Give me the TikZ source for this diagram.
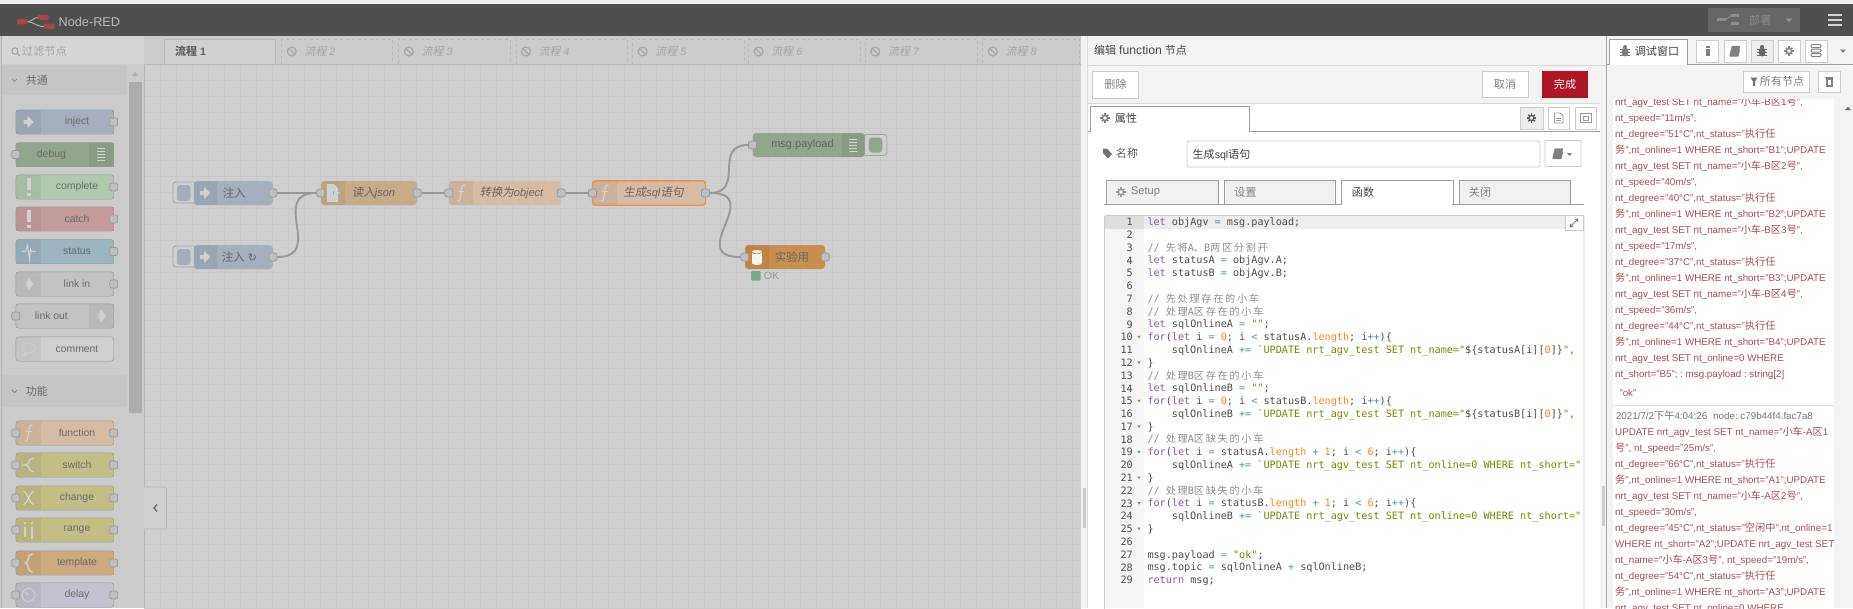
\documentclass[tikz,border=0pt]{standalone}
\usepackage{fontspec}
\setmainfont{Liberation Sans}
\newfontfamily\cjk[Scale=1.04]{Noto Sans CJK SC}
\newfontfamily\cjkit[Scale=1.04,FakeSlant=0.2]{Noto Sans CJK SC}
\newfontfamily\cjkmono[LetterSpace=17]{Noto Sans CJK SC}
\newfontfamily\mono{DejaVu Sans Mono}
\frenchspacing

\definecolor{topbar}{HTML}{4F4F4F}
\definecolor{canvas}{HTML}{CFCFCF}
\definecolor{gridcol}{HTML}{C8C8C8}
\definecolor{palback}{HTML}{CBCBCB}
\definecolor{palhead}{HTML}{C5C5C5}
\definecolor{maskline}{HTML}{B6B6B6}
\definecolor{injectcol}{HTML}{A4AEBC}
\definecolor{debugcol}{HTML}{92A58D}
\definecolor{completecol}{HTML}{B1C9AF}
\definecolor{catchcol}{HTML}{C49B9B}
\definecolor{statuscol}{HTML}{9BB4BF}
\definecolor{linkcol}{HTML}{C3C3C3}
\definecolor{commentcol}{HTML}{CFCFCF}
\definecolor{funccol}{HTML}{D6BCA5}
\definecolor{switchcol}{HTML}{C3BE85}
\definecolor{templatecol}{HTML}{CDAA7E}
\definecolor{delaycol}{HTML}{C4C1D0}
\definecolor{filecol}{HTML}{C5AB8A}
\definecolor{dbcol}{HTML}{C68F4D}
\definecolor{selectcol}{HTML}{E5954C}
\definecolor{okcol}{HTML}{7AA58F}
\definecolor{logocol}{HTML}{A04848}
\definecolor{traybg}{HTML}{F3F3F3}
\definecolor{edgecol}{HTML}{CCCCCC}
\definecolor{donecol}{HTML}{AD1625}
\definecolor{codecol}{HTML}{4D4D4C}
\definecolor{kwcol}{HTML}{8959A8}
\definecolor{strcol}{HTML}{718C00}
\definecolor{cmcol}{HTML}{8E908C}
\definecolor{opcol}{HTML}{3E999F}
\definecolor{numcol}{HTML}{F5871F}
\definecolor{dbgcol}{HTML}{A84E4E}
\colorlet{iconwhite}{white!82!black}

\newcommand{\zh}[1]{{\cjk #1}}
\newcommand{\zi}[1]{{\cjkit #1}}
\newcommand{\zc}[1]{{\cjkmono #1}}
\newcommand{\kw}[1]{\textcolor{kwcol}{#1}}
\newcommand{\strg}[1]{\textcolor{strcol}{#1}}
\newcommand{\cm}[1]{\textcolor{cmcol}{#1}}
\newcommand{\op}[1]{\textcolor{opcol}{#1}}
\newcommand{\nb}[1]{\textcolor{numcol}{#1}}
\newcommand{\ind}{\hspace*{24.4pt}}

% band and outline of a node
\newcommand{\nodeband}[4]{%
\begin{scope}
\clip[rounded corners=3pt] (#1.south west) rectangle (#1.north east);
\fill[black,fill opacity=.05] (#1.north #2) rectangle ([xshift=#3]#1.south #2);
\end{scope}
\draw[#4,rounded corners=3pt] (#1.south west) rectangle (#1.north east);}

% icons
\newcommand{\icoarrow}[1]{\begin{scope}[shift={(#1)}]
\fill[iconpaint] (-5,-2) -- (-1,-2) -- (-1,-6) -- (5,0) -- (-1,6) -- (-1,2) -- (-5,2) -- cycle;
\draw[canvas,line width=.8pt] (-5,0) -- (1,0);
\end{scope}}
\newcommand{\icobars}[1]{\begin{scope}[shift={(#1)}]
\foreach \k in {-6,-3,0,3,6} \draw[iconline,line width=1pt] (-4,\k) -- (4,\k);
\end{scope}}
\newcommand{\icowarn}[1]{\begin{scope}[shift={(#1)}]
\fill[iconpaint] (-2,-9) rectangle (2,3);
\fill[iconpaint] (-2,6) rectangle (2,9);
\end{scope}}
\newcommand{\icopulse}[1]{\begin{scope}[shift={(#1)}]
\draw[iconline] (-7,0) -- (-3,0) -- (-1,-6) -- (1,8) -- (2,-2) -- (3,0) -- (7,0);
\end{scope}}
\newcommand{\icolink}[1]{\begin{scope}[shift={(#1)}]
\fill[iconpaint] (-4,-2) -- (-1,-2) -- (-1,-7) -- (5,0) -- (-1,7) -- (-1,2) -- (-4,2) -- (-1,0) -- cycle;
\end{scope}}
\newcommand{\icobubble}[1]{\begin{scope}[shift={(#1)}]
\draw[iconline,line width=.7pt] (0,-1) ellipse (6.5pt and 5pt);
\draw[iconline,line width=.7pt] (-3,3) -- (-5,7) -- (0,4);
\end{scope}}
\newcommand{\icof}[1]{\begin{scope}[shift={(#1)}]
\draw[iconline,line width=1.3pt] (4,-8) .. controls (0,-9) and (1,-4) .. (0,0) .. controls (-1,4) and (0,9) .. (-4,8);
\draw[iconline,line width=1pt] (-3,-2) -- (3,-2);
\end{scope}}
\newcommand{\icoswitch}[1]{\begin{scope}[shift={(#1)}]
\draw[iconline,line width=1.3pt] (-7,0) -- (-3,0) .. controls (0,0) and (1,-3) .. (1,-5) -- (5,-7);
\draw[iconline,line width=1.3pt] (-3,0) .. controls (0,0) and (1,3) .. (1,5) -- (5,7);
\end{scope}}
\newcommand{\icochange}[1]{\begin{scope}[shift={(#1)}]
\draw[iconline,line width=1.3pt] (-5,-7) .. controls (0,-4) and (0,4) .. (5,7);
\draw[iconline,line width=1.3pt] (-5,7) .. controls (0,4) and (0,-4) .. (5,-7);
\end{scope}}
\newcommand{\icorange}[1]{\begin{scope}[shift={(#1)}]
\fill[iconpaint] (-4.5,-3) rectangle (-2.5,7);
\fill[iconpaint] (2,-3) rectangle (4.5,9);
\fill[iconpaint] (-4.5,-8) rectangle (-2.5,-6);
\fill[iconpaint] (2,-8) rectangle (4.5,-6);
\end{scope}}
\newcommand{\icobrace}[1]{\begin{scope}[shift={(#1)}]
\draw[iconline,line width=1.5pt] (4,-9) .. controls (-2,-9) and (1,-1) .. (-3,0) .. controls (1,1) and (-2,9) .. (4,9);
\end{scope}}
\newcommand{\icoclock}[1]{\begin{scope}[shift={(#1)}]
\draw[iconline,line width=.9pt] (0,0) circle (6.5pt);
\draw[iconline,line width=.9pt] (-3,-3) -- (0,0);
\end{scope}}
\newcommand{\icofile}[1]{\begin{scope}[shift={(#1)}]
\fill[iconpaint] (-6,-9) -- (1,-9) -- (5,-5) -- (5,-2) -- (0,-2) -- (0,2) -- (5,2) -- (5,9) -- (-6,9) -- cycle;
\fill[iconpaint] (1,-1.5) -- (1,-4) -- (7,0) -- (1,4) -- (1,1.5) -- cycle;
\end{scope}}
\newcommand{\icodb}[1]{\begin{scope}[shift={(#1)}]
\fill[white!90!dbcol] (-5,-5) rectangle (5,6);
\fill[white!90!dbcol] (0,6) ellipse (5pt and 2pt);
\fill[white!90!dbcol] (0,-5) ellipse (5pt and 2pt);
\draw[dbcol,line width=.6pt] (-5,-5) .. controls (-3,-2.5) and (3,-2.5) .. (5,-5);
\end{scope}}
\newcommand{\icogear}[2]{\begin{scope}[shift={(#1)}]
\foreach \k in {0,45,...,315} \draw[#2,line width=1.4pt] (\k:2.5pt) -- (\k:4.6pt);
\draw[#2,line width=1.3pt] (0,0) circle (2.5pt);
\end{scope}}
\newcommand{\icoban}[1]{\begin{scope}[shift={(#1)}]
\draw[tabmute,line width=1.1pt] (0,0) circle (4.5pt);
\draw[tabmute,line width=1.1pt] (-3,-3) -- (3,3);
\end{scope}}
\newcommand{\icobug}[2]{\begin{scope}[shift={(#1)}]
\fill[#2] (0,1) ellipse (3.5pt and 4.5pt);
\fill[#2] (0,-4) circle (2pt);
\draw[#2,line width=.7pt] (-5,-2) -- (5,-2) (-5,1) -- (5,1) (-5,4) -- (5,4);
\end{scope}}
\newcommand{\icobook}[1]{\begin{scope}[shift={(#1)}]
\fill[iconbtn] (-3,-5) -- (5,-5) -- (3,3) -- (-5,3) -- cycle;
\draw[iconbtn,line width=1pt] (-5,3) -- (-5,5) -- (3,5) -- (4.5,-1);
\end{scope}}

\tikzset{
iconpaint/.style={fill=iconwhite},
iconline/.style={draw=iconwhite,line width=1.1pt},
iconbtn/.style={fill=black!50,draw=black!50},
palnode/.style={minimum width=97.5,minimum height=24,inner sep=0},
flownode/.style={minimum height=24,inner sep=0,rounded corners=3pt},
flowbtn/.style={draw=black!36,fill=canvas,rounded corners=3pt,minimum width=24,minimum height=21,inner sep=0,line width=.8pt},
port/.style={draw=black!40,fill=black!25,minimum size=8,inner sep=0,rounded corners=2pt,line width=.7pt},
pallabel/.style={inner sep=0,text=black!58,font=\fontsize{10.4}{12}\selectfont},
flowlabel/.style={inner sep=0,text=black!60,font=\fontsize{11}{13}\selectfont},
wire/.style={draw=black!40,line width=1.9pt},
flowtab/.style={draw=black!28,dashed,minimum width=111,minimum height=25,inner sep=0},
tabmute/.style={draw=black!35},
tabtext/.style={inner sep=0,anchor=west,text=black!35,font=\fontsize{10.6}{12}\selectfont\itshape},
uibtn/.style={draw=edgecol,fill=white,inner sep=0,line width=.8pt,text=black!50,font=\fontsize{10.6}{12}\selectfont},
uitext/.style={inner sep=0,text=black!65,font=\fontsize{10.6}{12}\selectfont},
edtab/.style={draw=black!38,fill=black!6,minimum width=112,minimum height=24,inner sep=0,line width=.8pt},
codeline/.style={inner sep=0,anchor=base west,text=codecol,font=\mono\fontsize{10.15}{12}\selectfont},
lineno/.style={inner sep=0,anchor=base east,text=codecol,font=\mono\fontsize{10.15}{12}\selectfont},
dbgline/.style={inner sep=0,anchor=base west,text=dbgcol,font=\fontsize{9.8}{12}\selectfont},
}

\begin{document}
\begin{tikzpicture}[x=1pt,y=-1pt]
\useasboundingbox (0,0) rectangle (1853,608);
\clip (0,0) rectangle (1853,608);
\fill[white!94!black] (0,0) rectangle (1853,4);
\fill[topbar] (0,4) rectangle (1853,36);

% header
\draw[black!30,line width=.9pt] (27,21.5) .. controls (34,21) and (33,17.5) .. (38,17.5);
\draw[black!30,line width=.9pt] (27,21.5) .. controls (34,22) and (36,26.5) .. (44,26.5);
\fill[logocol,rounded corners=1pt] (17,19) rectangle (27.5,24.3);
\fill[logocol,rounded corners=1pt] (37.6,15) rectangle (48.6,20);
\fill[logocol,rounded corners=1pt] (43.5,23.7) rectangle (54.6,29);
\node[inner sep=0,anchor=west,text=black!28,font=\fontsize{12.7}{14}\selectfont] (title) at (58.5,21.5) {Node-RED};
\node[fill=black!60,minimum width=92,minimum height=24,inner sep=0] (deploy) at (1754,20) {};
\fill[black!45] (1717,18) rectangle (1726,21);
\draw[black!45,line width=1pt] (1726,19.5) -- (1731,15.5);
\fill[black!45] (1731,14) rectangle (1739,17);
\fill[black!45] (1731,22) rectangle (1739,25);
\node[inner sep=0,text=black!45,font=\fontsize{10.6}{12}\selectfont] (deployText) at (1760,20) {\zh{部署}};
\fill[black!40] (1786,18.5) -- (1792,18.5) -- (1789,22) -- cycle;
\foreach \k in {13.5,18.5,23.5} \fill[black!18] (1828,\k) rectangle (1842,\k+2.5);

% canvas and its grid
\fill[canvas] (144,64) rectangle (1081,608);
\draw[gridcol,line width=.7pt] (144,64) grid[step=16pt] (1081,608);
\fill[palback] (0,36) rectangle (144,608);
\fill[white!20!palback] (1,36) rectangle (144,64);
\draw[maskline,line width=.8pt] (1,36) -- (1,608);
\draw[maskline,line width=.8pt] (144,36) -- (144,608);

% filter box and tabs
\draw[black!40,line width=.9pt] (15,51) circle (3.2pt);
\draw[black!40,line width=1.1pt] (17.5,53.5) -- (19.5,56);
\node[inner sep=0,anchor=west,text=black!35,font=\fontsize{10.8}{12}\selectfont] (filter) at (21.7,51) {\zh{过滤节点}};
\fill[palback] (144,36) rectangle (1081,64);
\node[draw=maskline,fill=canvas,minimum width=111.6,minimum height=25.5,inner sep=0,line width=.8pt] (tab1) at (219.8,51.7) {};
\node[inner sep=0,anchor=west,text=black!62,font=\fontsize{10.6}{12}\selectfont\bfseries] (tab1-text) at (175,51) {\zh{流程} 1};
\foreach \n/\xx/\ww in {2/337/111,3/454.3/111.4,4/571.2/111,5/688/111.4,6/804.2/111.7,7/921/112,8/1031/97} {
\node[flowtab,minimum width=\ww] (tab\n) at (\xx,51.5) {};
\icoban{[xshift=10.5pt]tab\n.west}
\node[tabtext] (tab\n-text) at ([xshift=23pt]tab\n.west) {\zi{流程} \n};
}
\draw[maskline,line width=.9pt] (144,64) -- (164,64);
\draw[maskline,line width=.9pt] (275.6,64) -- (1081,64);

% palette
\fill[palhead] (2,65) rectangle (127,95);
\draw[black!50,line width=.7pt] (12,79) -- (14.5,81.5) -- (17,79);
\node[inner sep=0,text=black!58,font=\fontsize{10.6}{12}\selectfont] (common) at (37,80) {\zh{共通}};
\fill[palhead] (2,375) rectangle (127,407);
\draw[black!50,line width=.7pt] (12,390) -- (14.5,392.5) -- (17,390);
\node[inner sep=0,text=black!58,font=\fontsize{10.6}{12}\selectfont] (funcs) at (37,391) {\zh{功能}};
\fill[black!32] (129,82) rectangle (142,413);
\fill[black!32] (132,76) -- (138,76) -- (135,72) -- cycle;

\foreach \id/\yy/\col/\txt/\ico in {inject/122/injectcol/inject/arrow,complete/187/completecol/complete/warn,catch/219/catchcol/catch/warn,status/251.5/statuscol/status/pulse,linkin/284/linkcol/link in/link,comment/349/commentcol/comment/bubble,function/433/funccol/function/f,switch/465/switchcol/switch/switch,change/498/switchcol/change/change,range/530/switchcol/range/range,template/563/templatecol/template/brace,delay/595/delaycol/delay/clock} {
\node[palnode,fill=\col] (\id) at (64.75,\yy) {};
\nodeband{\id}{west}{25.5pt}{black!42}
\node[pallabel] (\id-text) at (77,\yy) {\txt};
\csname ico\ico\endcsname{[xshift=12.75pt]\id.west}
}
\foreach \id/\yy/\col/\txt/\ico in {debug/154.5/debugcol/debug/bars,linkout/316/linkcol/link out/link} {
\node[palnode,fill=\col] (\id) at (64.75,\yy) {};
\nodeband{\id}{east}{-25pt}{black!42}
\node[pallabel] (\id-text) at (51.4,\yy) {\txt};
\csname ico\ico\endcsname{[xshift=-12.5pt]\id.east}
}
\foreach \id in {debug,linkout,function,switch,change,range,template,delay} \node[port] (\id-in) at (\id.west) {};
\foreach \id in {inject,complete,catch,status,linkin,function,switch,change,range,template,delay} \node[port] (\id-out) at (\id.east) {};

% palette collapse tab
\draw[maskline,fill=canvas,rounded corners=2pt,line width=.8pt] (144,487) -- (166.5,487) -- (166.5,529) -- (144,529);
\draw[black!55,line width=1.4pt] (157,504.5) -- (154,508) -- (157,511.5);

% flow nodes
\node[flowbtn] (inject1Btn) at (185,192.5) {};
\node[fill=injectcol,rounded corners=3pt,minimum width=13.5,minimum height=16,inner sep=0] (inject1Face) at (183.5,193) {};
\node[flowbtn] (inject2Btn) at (185,256.5) {};
\node[fill=injectcol,rounded corners=3pt,minimum width=13.5,minimum height=16,inner sep=0] (inject2Face) at (183.5,257) {};
\node[flowbtn] (msgBtn) at (875,145) {};
\node[fill=debugcol,rounded corners=3pt,minimum width=13.5,minimum height=15,inner sep=0] (msgFace) at (875.5,145) {};

\node[flownode,fill=injectcol,minimum width=79] (inject1) at (233.25,193) {};
\nodeband{inject1}{west}{23.7pt}{black!22}
\icoarrow{[xshift=11.5pt]inject1.west}
\node[flowlabel] (inject1-text) at (234.2,193) {\zh{注入}};
\node[flownode,fill=injectcol,minimum width=79] (inject2) at (233.25,257) {};
\nodeband{inject2}{west}{23.7pt}{black!22}
\icoarrow{[xshift=11.5pt]inject2.west}
\node[flowlabel] (inject2-text) at (239.5,257) {\zh{注入} {\fontspec{DejaVu Sans}↻}};
\node[flownode,fill=filecol,minimum width=96] (readFile) at (369,193) {};
\nodeband{readFile}{west}{24pt}{black!22}
\icofile{[xshift=12pt]readFile.west}
\node[flowlabel] (readFile-text) at (373.5,193) {\zi{读入}\textit{json}};
\node[flownode,fill=funccol,minimum width=112] (toObject) at (505,193) {};
\nodeband{toObject}{west}{24pt}{black!22}
\icof{[xshift=12pt]toObject.west}
\node[flowlabel] (toObject-text) at (511.6,193) {\zi{转换为}\textit{object}};
\node[flownode,fill=funccol,minimum width=112.6] (makeSql) at (649,193) {};
\nodeband{makeSql}{west}{24pt}{selectcol,line width=1.4pt}
\icof{[xshift=12pt]makeSql.west}
\node[flowlabel] (makeSql-text) at (653.5,193) {\zi{生成}\textit{sql}\zi{语句}};
\node[flownode,fill=debugcol,minimum width=112.3] (msgPayload) at (808.8,145) {};
\nodeband{msgPayload}{east}{-23.3pt}{black!22}
\icobars{[xshift=-11.7pt]msgPayload.east}
\node[flowlabel] (msgPayload-text) at (802.5,145) {msg.payload};
\node[flownode,fill=dbcol,minimum width=80] (mysqlNode) at (785,257) {};
\nodeband{mysqlNode}{west}{24pt}{black!22}
\icodb{[xshift=12pt]mysqlNode.west}
\node[flowlabel] (mysqlNode-text) at (792,257) {\zh{实验用}};
\node[fill=okcol,rounded corners=1pt,minimum size=9.5,inner sep=0] (okDot) at (755.8,275.8) {};
\node[inner sep=0,anchor=west,text=black!40,font=\fontsize{10.6}{12}\selectfont] (okText) at (763.7,275.8) {OK};

\node[port] (inject1-out) at (inject1.east) {};
\node[port] (inject2-out) at (inject2.east) {};
\node[port] (readFile-in) at (readFile.west) {};
\node[port] (readFile-out) at (readFile.east) {};
\node[port] (toObject-in) at (toObject.west) {};
\node[port] (toObject-out) at (toObject.east) {};
\node[port] (makeSql-in) at (makeSql.west) {};
\node[port] (makeSql-out) at (makeSql.east) {};
\node[port] (msgPayload-in) at (msgPayload.west) {};
\node[port] (mysqlNode-in) at (mysqlNode.west) {};
\node[port] (mysqlNode-out) at (mysqlNode.east) {};

\draw[wire] (inject1-out) -- (readFile-in);
\draw[wire] (inject2-out.east) .. controls +(48,0) and +(-48,0) .. (readFile-in.west);
\draw[wire] (readFile-out) -- (toObject-in);
\draw[wire] (toObject-out) -- (makeSql-in);
\draw[wire] (makeSql-out.east) .. controls +(36,0) and +(-36,0) .. (msgPayload-in.west);
\draw[wire] (makeSql-out.east) .. controls +(56,0) and +(-56,0) .. (mysqlNode-in.west);

% edit tray
\fill[traybg] (1081,36) rectangle (1607,608);
\fill[black!5] (1081,36) rectangle (1083,608);
\fill[white] (1087,103.5) rectangle (1600,608);
\draw[black!15,line width=.8pt] (1087,36) -- (1087,608);
\draw[black!15,line width=.8pt] (1087,65) -- (1607,65);
\draw[black!15,line width=.8pt] (1087,103.5) -- (1600,103.5);
\fill[black!20] (1083,488) rectangle (1086,528);
\fill[black!20] (1602,486) rectangle (1604.5,526);
\draw[black!35,line width=.9pt] (1606.5,36) -- (1606.5,608);

\node[inner sep=0,anchor=west,text=black!72,font=\fontsize{10.6}{13}\selectfont] (editTitle) at (1094,50.5) {\zh{编辑} {\fontsize{12.2}{13}\selectfont function} \zh{节点}};
\node[uibtn,minimum width=46,minimum height=27] (deleteBtn) at (1115.5,84.5) {\zh{删除}};
\node[uibtn,minimum width=46,minimum height=26] (cancelBtn) at (1505,84) {\zh{取消}};
\node[fill=donecol,text=white,minimum width=46,minimum height=27,inner sep=0,font=\fontsize{10.6}{12}\selectfont] (doneBtn) at (1565,84.5) {\zh{完成}};

\draw[black!38,line width=.8pt] (1088,131.5) -- (1600,131.5);
\draw[black!38,fill=white,line width=.8pt] (1090,131.5) -- (1090,106.5) -- (1249.5,106.5) -- (1249.5,131.5);
\draw[white,line width=1.2pt] (1090.5,131.5) -- (1249,131.5);
\icogear{1105,118}{black!50}
\node[uitext,text=black!75] (propTab) at (1126,118) {\zh{属性}};
\node[uibtn,fill=black!7,minimum width=23,minimum height=22] (propBtn) at (1531.5,118) {};
\icogear{1531.5,118}{black!65}
\node[uibtn,minimum width=21,minimum height=22] (descBtn) at (1558.5,118) {};
\draw[black!40,line width=.8pt] (1554.5,113) -- (1560,113) -- (1563,116) -- (1563,123) -- (1554.5,123) -- cycle;
\draw[black!40,line width=.6pt] (1556,118) -- (1561,118) (1556,120.5) -- (1561,120.5);
\node[uibtn,minimum width=21,minimum height=22] (sizeBtn) at (1585.5,118) {};
\draw[black!40,line width=.9pt] (1580,113.5) rectangle (1591,122.5);
\draw[black!40,line width=.7pt] (1583,116) rectangle (1588,120);

% name row
\fill[black!55] (1103,148.5) -- (1107,148.5) -- (1112,154) -- (1108,158.5) -- (1103,153) -- cycle;
\node[uitext] (nameLabel) at (1127,153) {\zh{名称}};
\node[draw=edgecol,fill=white,rounded corners=2pt,minimum width=353,minimum height=26,inner sep=0,line width=.8pt] (nameInput) at (1363.5,154) {};
\node[inner sep=0,anchor=west,text=black!75,font=\fontsize{10.6}{12}\selectfont] (nameText) at (1192.5,155) {\zh{生成}sql\zh{语句}};
\node[uibtn,rounded corners=1pt,minimum width=36,minimum height=26] (libBtn) at (1563,153.5) {};
\icobook{1558,153.5}
\fill[black!50] (1567,153) -- (1572,153) -- (1569.5,156) -- cycle;

% function tabs
\draw[black!38,line width=.8pt] (1104,204.5) -- (1584,204.5);
\node[edtab] (setupTab) at (1162,192.3) {};
\icogear{1121,192}{black!40}
\node[uitext,text=black!50,font=\fontsize{11}{12}\selectfont] (setupText) at (1145.5,192) {Setup};
\node[edtab,minimum width=111] (initTab) at (1279.5,192.3) {};
\node[uitext,text=black!50] (initText) at (1245.5,192) {\zh{设置}};
\node[edtab,fill=white] (funcTab) at (1397,192.3) {};
\draw[white,line width=1.4pt] (1341.6,204.5) -- (1452.4,204.5);
\node[uitext,text=black!72] (funcText) at (1363,192) {\zh{函数}};
\node[edtab,minimum width=111] (closeTab) at (1514.5,192.3) {};
\node[uitext,text=black!50] (closeText) at (1480,192) {\zh{关闭}};

% code box
\fill[white] (1104.5,215.5) rectangle (1584,608);
\fill[black!4] (1105,216) rectangle (1144,608);
\fill[black!13] (1105,216) rectangle (1144,229);
\fill[black!7] (1144,216) rectangle (1583.5,229);
\draw[edgecol,line width=.9pt,rounded corners=1.5pt] (1104.5,620) -- (1104.5,215.5) -- (1584,215.5) -- (1584,620);
\begin{scope}
\clip (1144,216) rectangle (1583.5,608);
\foreach \n/\txt in {
1/{\kw{let} objAgv \op{=} msg.payload;},
3/{\cm{// \zc{先将}A\zc{、}B\zc{两区分割开}}},
4/{\kw{let} statusA \op{=} objAgv.A;},
5/{\kw{let} statusB \op{=} objAgv.B;},
7/{\cm{// \zc{先处理存在的小车}}},
8/{\cm{// \zc{处理}A\zc{区存在的小车}}},
9/{\kw{let} sqlOnlineA \op{=} \strg{""};},
10/{\kw{for}(\kw{let} i \op{=} \nb{0}; i \op{<} statusA.\nb{length}; i\op{++})\{},
11/{\ind sqlOnlineA \op{+=} \strg{`UPDATE nrt\_agv\_test SET nt\_name="}\$\{statusA[i][\nb{0}]\}\strg{",}},
12/{\}},
13/{\cm{// \zc{处理}B\zc{区存在的小车}}},
14/{\kw{let} sqlOnlineB \op{=} \strg{""};},
15/{\kw{for}(\kw{let} i \op{=} \nb{0}; i \op{<} statusB.\nb{length}; i\op{++})\{},
16/{\ind sqlOnlineB \op{+=} \strg{`UPDATE nrt\_agv\_test SET nt\_name="}\$\{statusB[i][\nb{0}]\}\strg{",}},
17/{\}},
18/{\cm{// \zc{处理}A\zc{区缺失的小车}}},
19/{\kw{for}(\kw{let} i \op{=} statusA.\nb{length} \op{+} \nb{1}; i \op{<} \nb{6}; i\op{++})\{},
20/{\ind sqlOnlineA \op{+=} \strg{`UPDATE nrt\_agv\_test SET nt\_online=0 WHERE nt\_short="}},
21/{\}},
22/{\cm{// \zc{处理}B\zc{区缺失的小车}}},
23/{\kw{for}(\kw{let} i \op{=} statusB.\nb{length} \op{+} \nb{1}; i \op{<} \nb{6}; i\op{++})\{},
24/{\ind sqlOnlineB \op{+=} \strg{`UPDATE nrt\_agv\_test SET nt\_online=0 WHERE nt\_short="}},
25/{\}},
27/{msg.payload \op{=} \strg{"ok"};},
28/{msg.topic \op{=} sqlOnlineA \op{+} sqlOnlineB;},
29/{\kw{return} msg;}} {
\node[codeline] (code\n) at (1147.3,{225.6+12.786*(\n-1)}) {\txt};
}
\end{scope}
\foreach \n in {1,...,29} \node[lineno] (no\n) at (1133,{225.8+12.786*(\n-1)}) {\n};
\foreach \n in {10,12,15,17,19,21,23,25} \fill[black!45] (1137.3,{220.8+12.786*(\n-1)}) -- ++(3.4,0) -- ++(-1.7,2.6) -- cycle;
\node[draw=edgecol,fill=white,minimum width=18,minimum height=15,inner sep=0] (expandBtn) at (1574,223) {};
\draw[black!50,line width=.9pt] (1570,227) -- (1578,219);
\fill[black!50] (1578.5,218.5) -- (1574.5,219) -- (1578,222.5) -- cycle;
\fill[black!50] (1569.5,227.5) -- (1573.5,227) -- (1570,223.5) -- cycle;

% debug sidebar
\fill[traybg] (1607,36) rectangle (1853,608);
\draw[black!38,line width=.8pt] (1607,64.5) -- (1853,64.5);
\draw[black!38,fill=white,line width=.8pt] (1609.5,64.5) -- (1609.5,39.5) -- (1687.5,39.5) -- (1687.5,64.5);
\draw[white,line width=1.2pt] (1610,64.5) -- (1687,64.5);
\icobug{1625,51}{black!50}
\node[uitext,text=black!75] (debugTab) at (1657,51) {\zh{调试窗口}};
\foreach \id/\xx in {infoBtn/1707.5,helpBtn/1735,configBtn/1789,ctxBtn/1816} \node[uibtn,minimum width=22,minimum height=22] (\id) at (\xx,51) {};
\node[uibtn,fill=black!7,minimum width=22,minimum height=22] (debugBtn) at (1762,51) {};
\fill[black!50] (1705.5,49) rectangle (1709.5,56);
\fill[black!50] (1705.5,45.5) rectangle (1709.5,47.5);
\icobook{1735,51}
\icobug{1762,51}{black!60}
\icogear{1789,51}{black!50}
\foreach \k in {46,50.5,55} \draw[black!50,fill=white,rounded corners=1pt,line width=1pt] (1811,\k-1.5) rectangle (1821,\k+1.5);
\fill[black!50] (1840,49.5) -- (1846,49.5) -- (1843,53) -- cycle;

\node[uibtn,minimum width=66,minimum height=21] (filterBtn) at (1776,81.5) {};
\fill[black!55] (1750.5,77.5) -- (1757.5,77.5) -- (1755,81.5) -- (1755,86) -- (1753,86) -- (1753,81.5) -- cycle;
\node[uitext,text=black!50] (filterText) at (1782,81.5) {\zh{所有节点}};
\node[uibtn,minimum width=22,minimum height=21] (clearBtn) at (1829,81.5) {};
\fill[black!50] (1825.5,78) rectangle (1832.5,86.5);
\fill[white] (1827.5,80) rectangle (1830.5,85);
\fill[black!50] (1825,76.8) rectangle (1833,78);

\fill[white] (1613,99) rectangle (1834,608);
\draw[black!10,line width=.8pt] (1613,405.5) -- (1834,405.5);
\fill[black!55] (1845,110) -- (1851,110) -- (1848,106.5) -- cycle;
\begin{scope}
\clip (1613,99) rectangle (1834,608);
\foreach \n/\txt in {
0/{nrt\_agv\_test SET nt\_name="\zh{小车}-B\zh{区}1\zh{号}",},
1/{nt\_speed="11m/s",},
2/{nt\_degree="51°C",nt\_status="\zh{执行任}},
3/{\zh{务}",nt\_online=1 WHERE nt\_short="B1";UPDATE},
4/{nrt\_agv\_test SET nt\_name="\zh{小车}-B\zh{区}2\zh{号}",},
5/{nt\_speed="40m/s",},
6/{nt\_degree="40°C",nt\_status="\zh{执行任}},
7/{\zh{务}",nt\_online=1 WHERE nt\_short="B2";UPDATE},
8/{nrt\_agv\_test SET nt\_name="\zh{小车}-B\zh{区}3\zh{号}",},
9/{nt\_speed="17m/s",},
10/{nt\_degree="37°C",nt\_status="\zh{执行任}},
11/{\zh{务}",nt\_online=1 WHERE nt\_short="B3";UPDATE},
12/{nrt\_agv\_test SET nt\_name="\zh{小车}-B\zh{区}4\zh{号}",},
13/{nt\_speed="36m/s",},
14/{nt\_degree="44°C",nt\_status="\zh{执行任}},
15/{\zh{务}",nt\_online=1 WHERE nt\_short="B4";UPDATE},
16/{nrt\_agv\_test SET nt\_online=0 WHERE},
17/{nt\_short="B5"; : msg.payload : string[2]}} {
\node[dbgline] (dbgB\n) at (1615,{105.5+16*\n}) {\txt};
}
\node[dbgline] (dbgOk) at (1619.3,396.5) {"ok"};
\node[dbgline,text=black!55] (dbgStamp) at (1615.8,419.5) {2021/7/2\zh{下午}4:04:26\hspace{6pt}node: c79b44f4.fac7a8};
\foreach \n/\txt in {
0/{UPDATE nrt\_agv\_test SET nt\_name="\zh{小车}-A\zh{区}1},
1/{\zh{号}", nt\_speed="25m/s",},
2/{nt\_degree="66°C",nt\_status="\zh{执行任}},
3/{\zh{务}",nt\_online=1 WHERE nt\_short="A1";UPDATE},
4/{nrt\_agv\_test SET nt\_name="\zh{小车}-A\zh{区}2\zh{号}",},
5/{nt\_speed="30m/s",},
6/{nt\_degree="45°C",nt\_status="\zh{空闲中}",nt\_online=1},
7/{WHERE nt\_short="A2";UPDATE nrt\_agv\_test SET},
8/{nt\_name="\zh{小车}-A\zh{区}3\zh{号}", nt\_speed="19m/s",},
9/{nt\_degree="54°C",nt\_status="\zh{执行任}},
10/{\zh{务}",nt\_online=1 WHERE nt\_short="A3";UPDATE},
11/{nrt\_agv\_test SET nt\_online=0 WHERE}} {
\node[dbgline] (dbgA\n) at (1615,{435.5+16*\n}) {\txt};
}
\end{scope}
\end{tikzpicture}
\end{document}
